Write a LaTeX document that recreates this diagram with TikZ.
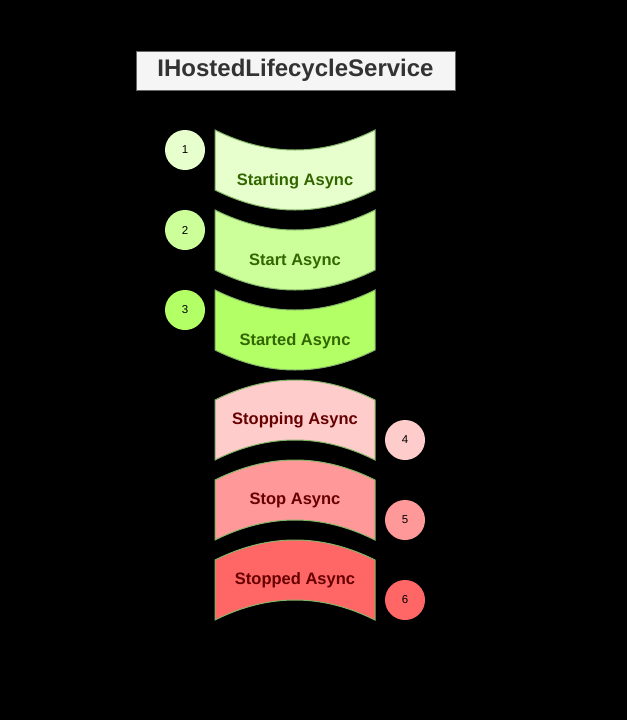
\documentclass[tikz,border=0pt]{standalone}
\usepackage{fontspec}
\setmainfont{Liberation Sans}
\definecolor{gA}{HTML}{E6FFCC}
\definecolor{gB}{HTML}{CCFF99}
\definecolor{gC}{HTML}{B3FF66}
\definecolor{rA}{HTML}{FFCCCC}
\definecolor{rB}{HTML}{FF9999}
\definecolor{rC}{HTML}{FF6666}
\definecolor{bandline}{HTML}{82B366}
\definecolor{gtext}{HTML}{336600}
\definecolor{rtext}{HTML}{660000}
\definecolor{titlefill}{HTML}{F5F5F5}
\definecolor{titleline}{HTML}{666666}
\definecolor{titletext}{HTML}{333333}
\begin{document}
\begin{tikzpicture}[x=1pt,y=-1pt,
  titlebox/.style={draw=titleline, fill=titlefill, text=titletext, font=\bfseries\fontsize{24}{28}\selectfont, minimum width=319pt, minimum height=39pt, inner sep=0pt},
  band/.style={draw=bandline, line width=1pt},
  gband/.style={font=\bfseries\fontsize{16.5}{19}\selectfont, text=gtext, inner sep=0pt},
  rband/.style={font=\bfseries\fontsize{16.5}{19}\selectfont, text=rtext, inner sep=0pt},
  numdot/.style={circle, minimum size=40pt, inner sep=0pt, font=\fontsize{11.5}{14}\selectfont, text=black}]
\fill[black] (0,0) rectangle (627,720);
\useasboundingbox (0,0) rectangle (627,720);
\node[titlebox] (title) at (295.5,70.5) {IHostedLifecycleService};
% green bands (bowing downward)
\foreach \y/\f in {130/gA, 210/gB, 290/gC} {
  \path[band, fill=\f] (215,\y) .. controls (268.33,\y+26.67) and (321.67,\y+26.67) .. (375,\y)
    -- (375,\y+60) .. controls (321.67,\y+86.67) and (268.33,\y+86.67) .. (215,\y+60) -- cycle;
}
% red bands (bowing upward)
\foreach \y/\f in {400/rA, 480/rB, 560/rC} {
  \path[band, fill=\f] (215,\y) .. controls (268.33,\y-26.67) and (321.67,\y-26.67) .. (375,\y)
    -- (375,\y+60) .. controls (321.67,\y+33.33) and (268.33,\y+33.33) .. (215,\y+60) -- cycle;
}
\node[gband] (s1) at (295,181) {Starting Async};
\node[gband] (s2) at (295,261) {Start Async};
\node[gband] (s3) at (295,341) {Started Async};
\node[rband] (s4) at (295,420) {Stopping Async};
\node[rband] (s5) at (295,500) {Stop Async};
\node[rband] (s6) at (295,580) {Stopped Async};
\node[numdot, fill=gA] (n1) at (185,150) {1};
\node[numdot, fill=gB] (n2) at (185,230) {2};
\node[numdot, fill=gC] (n3) at (185,310) {3};
\node[numdot, fill=rA] (n4) at (405,440) {4};
\node[numdot, fill=rB] (n5) at (405,520) {5};
\node[numdot, fill=rC] (n6) at (405,600) {6};
\end{tikzpicture}
\end{document}
